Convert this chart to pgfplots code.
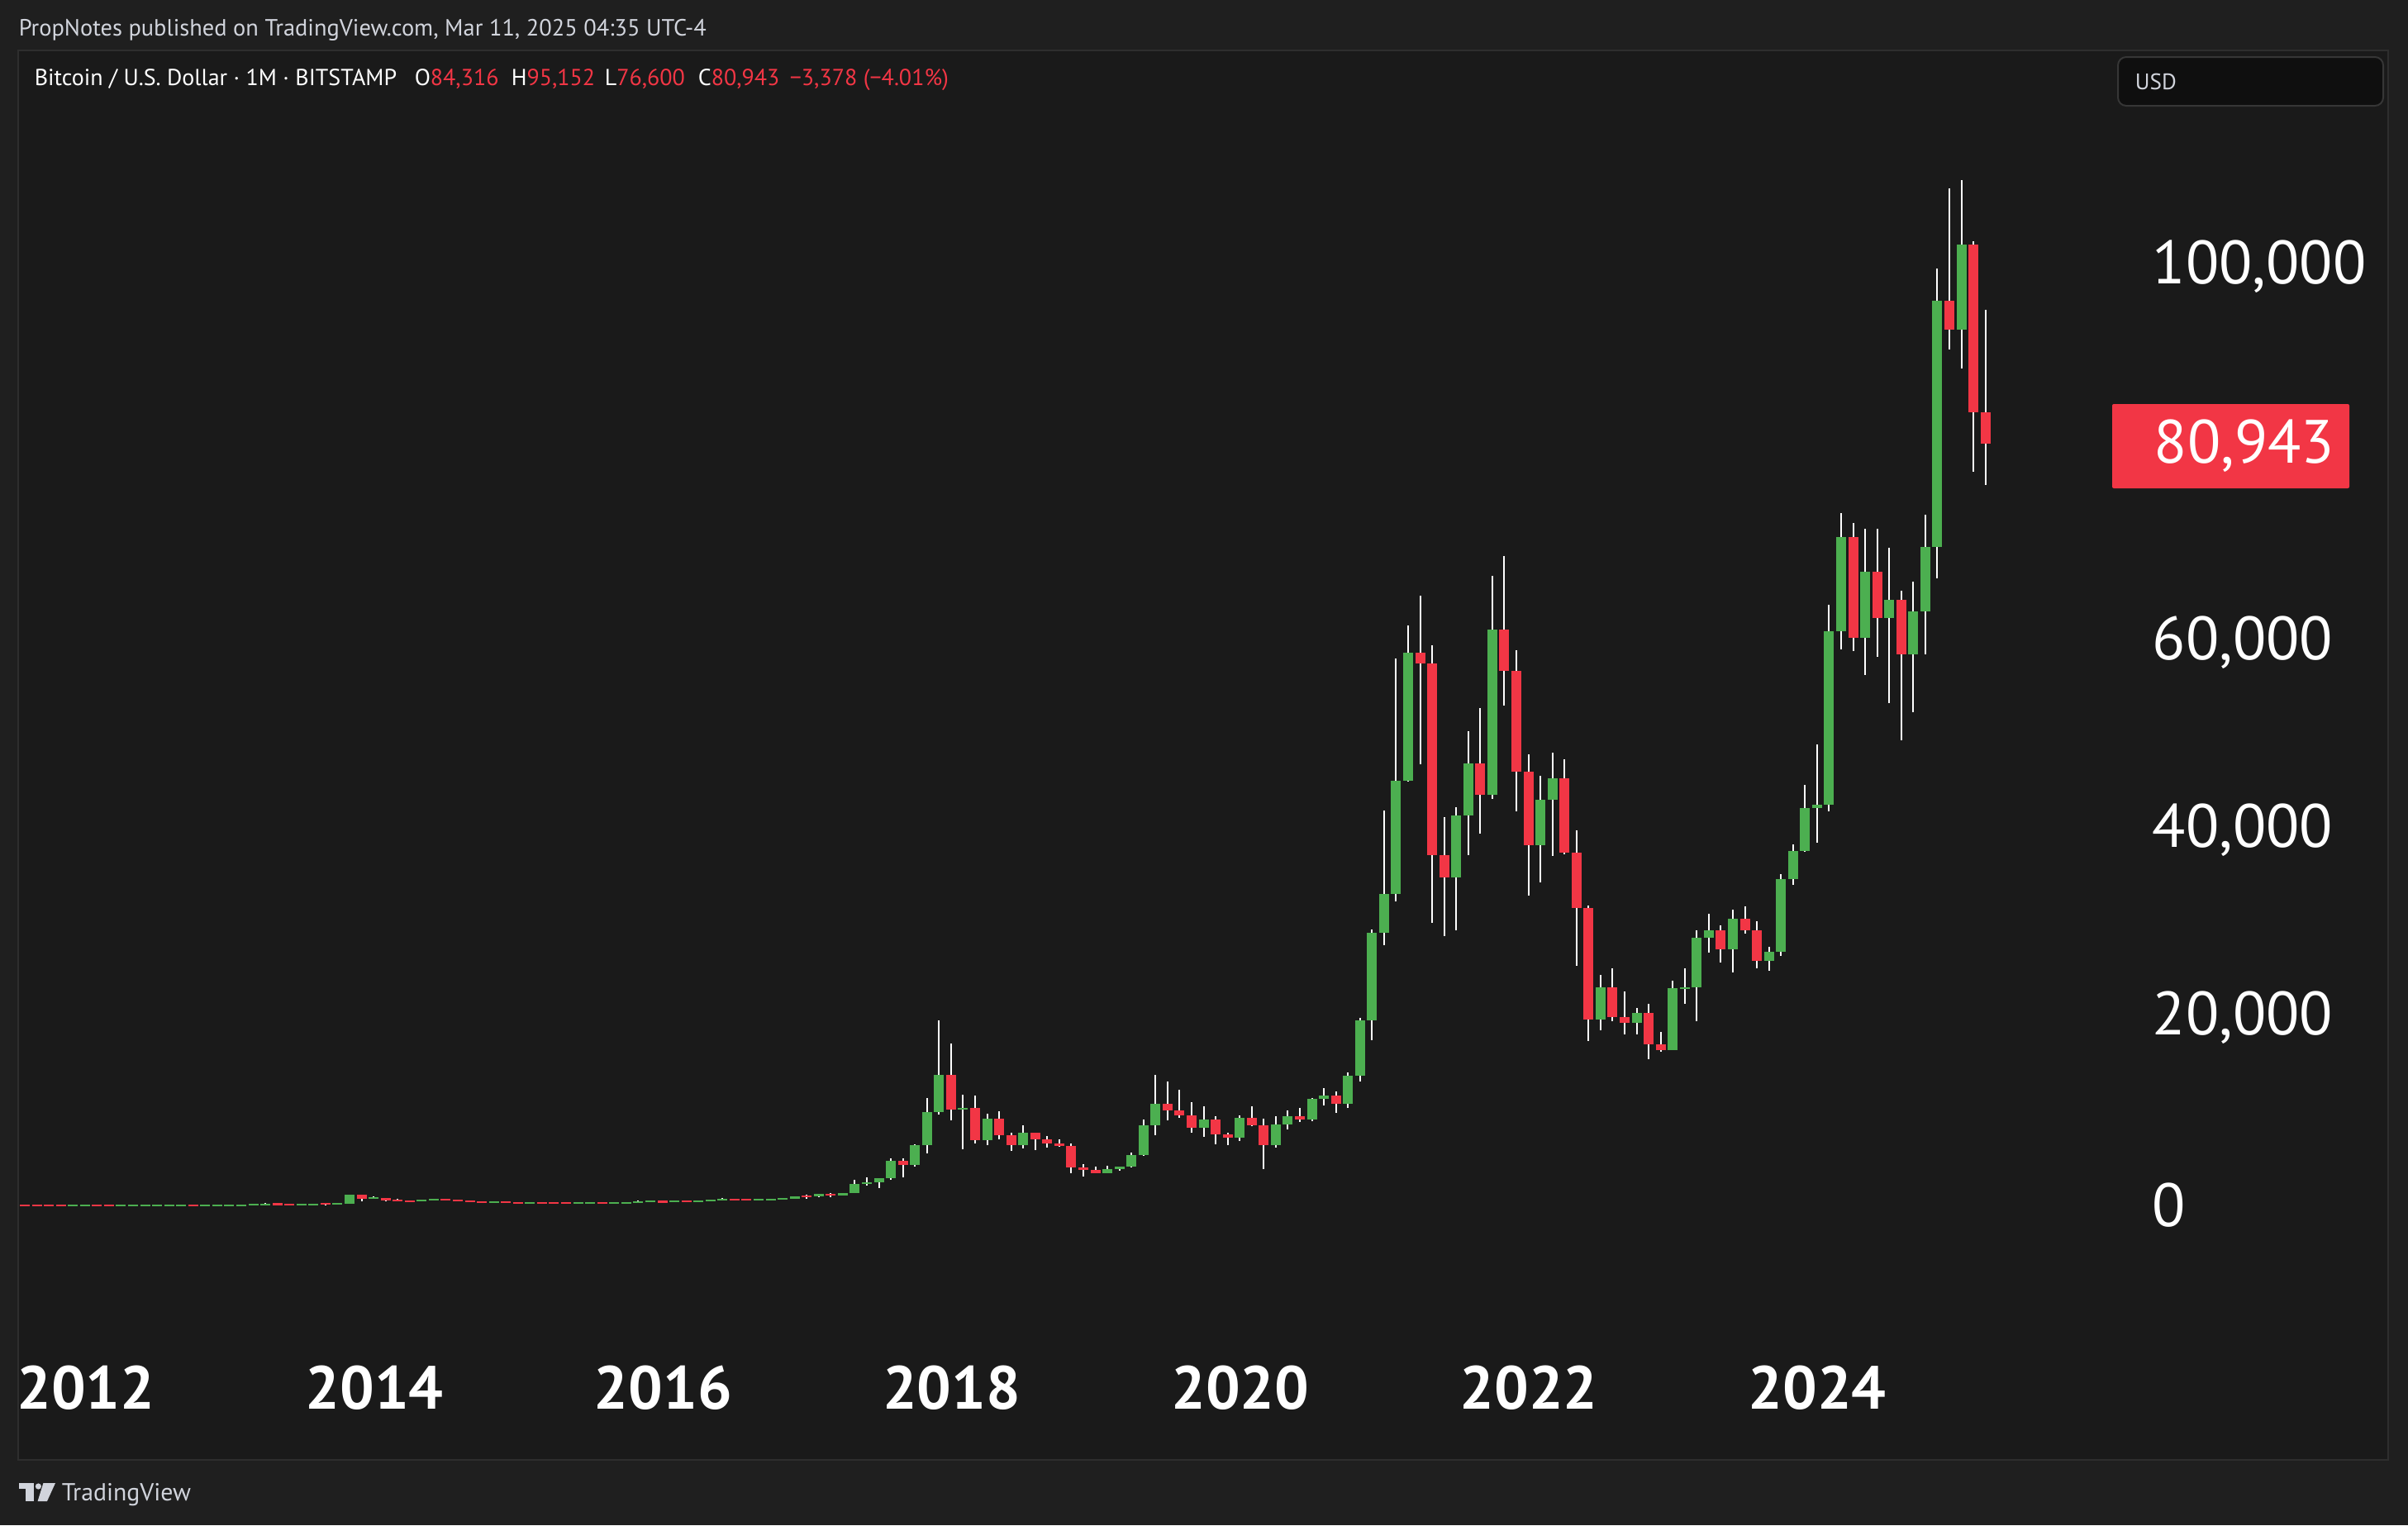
\documentclass[border=0pt]{standalone}
\usepackage{pgfplots}
\pgfplotsset{compat=1.18}
\usepackage{pgfplotstable}
\usepackage{fontspec}
\setmainfont{PT Sans}
\definecolor{outerbg}{HTML}{1F1F1F}
\definecolor{panelbg}{HTML}{1A1A1A}
\definecolor{panelline}{HTML}{2E2E2E}
\definecolor{tvgreen}{HTML}{4CAF50}
\definecolor{tvred}{HTML}{F23645}
\definecolor{txtgray}{HTML}{D1D4DC}
\definecolor{usdbg}{HTML}{0F0F0F}
\definecolor{usdline}{HTML}{363636}

% monthly candles, m = months since Jan 2012, prices in thousand USD
\pgfplotstableread{
m o h l c
-1 0.0030 0.0048 0.0029 0.0047
0 0.0047 0.0072 0.0047 0.0055
3 0.0048 0.0054 0.0046 0.0050
4 0.0050 0.0054 0.0049 0.0052
5 0.0052 0.0068 0.0052 0.0067
6 0.0067 0.0094 0.0065 0.0093
7 0.0093 0.0154 0.0075 0.0102
8 0.0102 0.0126 0.0100 0.0124
10 0.0112 0.0127 0.0100 0.0126
11 0.0126 0.0140 0.0124 0.0135
12 0.0135 0.0210 0.0130 0.0204
13 0.0204 0.0340 0.0204 0.0334
14 0.0334 0.0950 0.0330 0.0930
15 0.093 0.266 0.050 0.139
18 0.097 0.110 0.065 0.106
19 0.106 0.141 0.102 0.141
21 0.138 0.215 0.105 0.204
22 0.204 1.163 0.197 1.130
24 0.73 0.99 0.73 0.80
28 0.45 0.63 0.42 0.63
29 0.63 0.68 0.55 0.64
34 0.34 0.46 0.32 0.38
37 0.22 0.26 0.21 0.25
41 0.230 0.27 0.22 0.263
42 0.263 0.32 0.25 0.285
44 0.230 0.245 0.225 0.236
45 0.236 0.33 0.235 0.314
46 0.314 0.50 0.30 0.377
47 0.377 0.47 0.35 0.430
49 0.369 0.44 0.36 0.437
51 0.416 0.47 0.41 0.448
52 0.448 0.55 0.44 0.531
53 0.531 0.78 0.52 0.673
56 0.575 0.62 0.57 0.609
57 0.609 0.74 0.60 0.700
58 0.700 0.76 0.68 0.743
59 0.743 0.98 0.74 0.963
61 0.965 1.21 0.92 1.190
63 1.080 1.35 1.06 1.350
64 1.350 2.76 1.35 2.300
65 2.300 3.00 2.07 2.480
66 2.480 2.92 1.83 2.870
67 2.870 4.98 2.70 4.740
69 4.340 6.47 4.11 6.450
70 6.450 11.40 5.50 9.950
71 9.950 19.67 9.70 13.880
73 10.220 11.79 5.97 10.330
75 6.940 9.76 6.43 9.240
78 6.390 8.50 6.09 7.730
85 3.460 4.20 3.39 3.830
86 3.830 4.14 3.73 4.100
87 4.100 5.62 4.07 5.320
88 5.320 9.10 5.30 8.560
89 8.560 13.88 7.44 10.820
93 8.290 10.54 7.30 9.150
96 7.200 9.58 6.85 9.350
99 6.420 9.46 6.15 8.630
100 8.630 10.07 8.10 9.450
102 9.140 11.45 8.98 11.350
103 11.350 12.47 10.60 11.660
105 10.780 14.10 10.38 13.800
106 13.800 19.90 13.20 19.700
107 19.700 29.30 17.57 28.950
108 28.950 41.95 27.70 33.110
109 33.110 58.10 32.30 45.100
110 45.100 61.60 45.00 58.700
114 34.900 42.30 29.20 41.400
115 41.400 50.40 37.20 47.000
117 43.600 66.90 43.20 61.200
121 38.300 45.70 34.30 43.100
122 43.100 48.10 37.10 45.400
126 19.800 24.50 18.60 23.200
129 19.400 21.00 18.20 20.500
132 16.550 23.90 16.50 23.100
133 23.100 25.20 21.40 23.150
134 23.150 29.20 19.60 28.450
135 28.450 31.00 26.90 29.250
137 27.200 31.40 24.80 30.450
140 25.950 27.50 24.90 26.950
141 26.950 35.20 26.55 34.650
142 34.650 38.40 34.10 37.700
143 37.700 44.70 37.60 42.250
144 42.250 48.95 38.55 42.550
145 42.550 63.80 41.85 61.000
146 61.000 73.60 59.10 71.000
148 60.300 71.90 56.40 67.300
150 62.400 69.90 53.40 64.400
152 58.600 66.30 52.40 63.100
153 63.100 73.40 58.60 70.000
154 70.000 99.60 66.60 96.100
156 93.100 109.00 88.90 102.100
}\greentab

\pgfplotstableread{
m o h l c
-5 0.013 0.013 0.007 0.008
-4 0.008 0.0085 0.0045 0.0051
-3 0.0051 0.0052 0.0022 0.0032
-2 0.0032 0.0035 0.0020 0.0030
1 0.0055 0.0065 0.0042 0.0049
2 0.0049 0.0054 0.0043 0.0048
9 0.0124 0.0128 0.0100 0.0112
16 0.139 0.140 0.079 0.129
17 0.129 0.130 0.088 0.097
20 0.141 0.148 0.110 0.138
23 1.130 1.160 0.400 0.730
25 0.80 0.82 0.40 0.57
26 0.57 0.71 0.44 0.46
27 0.46 0.54 0.34 0.45
30 0.64 0.65 0.56 0.59
31 0.59 0.60 0.45 0.48
32 0.48 0.50 0.36 0.39
33 0.39 0.42 0.28 0.34
35 0.38 0.38 0.30 0.32
36 0.32 0.32 0.15 0.22
38 0.254 0.30 0.24 0.244
39 0.244 0.26 0.21 0.236
40 0.236 0.25 0.23 0.230
43 0.285 0.285 0.20 0.230
48 0.430 0.46 0.35 0.369
50 0.437 0.44 0.39 0.416
54 0.673 0.70 0.58 0.624
55 0.624 0.63 0.54 0.575
60 0.970 1.15 0.75 0.965
62 1.190 1.35 0.89 1.080
68 4.740 4.98 2.97 4.340
72 13.880 17.17 9.04 10.220
74 10.330 11.70 6.60 6.940
76 9.240 10.00 7.05 7.500
77 7.500 7.77 5.76 6.390
79 7.730 7.77 5.88 7.030
80 7.030 7.41 6.14 6.620
81 6.620 7.00 6.20 6.300
82 6.300 6.56 3.45 4.040
83 4.040 4.40 3.12 3.740
84 3.740 4.11 3.40 3.460
90 10.820 13.20 9.05 10.090
91 10.090 12.33 9.32 9.590
92 9.590 10.95 7.71 8.290
94 9.150 9.51 6.52 7.560
95 7.560 7.75 6.43 7.200
97 9.350 10.50 8.46 8.540
98 8.540 9.19 3.86 6.420
101 9.450 10.38 8.90 9.140
104 11.660 12.09 9.88 10.780
111 58.700 64.80 46.90 57.600
112 57.600 59.50 30.00 37.200
113 37.200 41.30 28.60 34.900
116 47.000 52.90 39.50 43.600
118 61.200 69.00 53.10 56.800
119 56.800 59.00 41.90 46.100
120 46.100 47.90 32.90 38.300
123 45.400 47.40 37.30 37.500
124 37.500 39.90 25.50 31.600
125 31.600 31.90 17.50 19.800
127 23.200 25.20 19.60 20.000
128 20.000 22.70 18.20 19.400
130 20.500 21.40 15.50 17.150
131 17.150 18.40 16.30 16.550
136 29.250 29.80 25.80 27.200
138 30.450 31.80 28.90 29.200
139 29.200 30.20 25.20 25.950
147 71.000 72.50 58.90 60.300
149 67.300 71.90 58.30 62.400
151 64.400 65.30 49.40 58.600
155 96.100 108.10 91.00 93.100
157 102.100 102.50 78.00 84.300
158 84.316 95.152 76.600 80.943
}\redtab

\pgfplotsset{
  wick/.style={draw=none, mark=none, forget plot,
    error bars/.cd, y dir=both, y explicit, error mark=none,
    error bar style={draw=white, line width=0.5pt}},
  body/.style={draw=none, mark=none, forget plot,
    error bars/.cd, y dir=both, y explicit, error mark=none,
    error bar style={draw=#1, line width=3pt}},
}

\begin{document}
\begin{tikzpicture}
% backgrounds
\fill[outerbg] (0pt,0pt) rectangle (728.5pt,-461.5pt);
\fill[panelbg] (5.5pt,-15.25pt) rectangle (722.5pt,-441.75pt);
\draw[panelline, line width=0.5pt] (5.5pt,-15.25pt) rectangle (722.5pt,-441.75pt);

\begin{axis}[
  at={(5.5pt,-441.75pt)}, anchor=south west,
  scale only axis, width=717pt, height=426.5pt,
  xmin=-5.551, xmax=191.48, ymin=-27.04, ymax=122.74,
  hide axis, clip=false,
]
\addplot[wick] table[x=m, y expr={(\thisrow{h}+\thisrow{l})/2}, y error expr={(\thisrow{h}-\thisrow{l})/2}] {\greentab};
\addplot[wick] table[x=m, y expr={(\thisrow{h}+\thisrow{l})/2}, y error expr={(\thisrow{h}-\thisrow{l})/2}] {\redtab};
\addplot[body=tvgreen] table[x=m, y expr={(\thisrow{o}+\thisrow{c})/2}, y error expr={max(abs(\thisrow{c}-\thisrow{o}),0.18)/2}] {\greentab};
\addplot[body=tvred] table[x=m, y expr={(\thisrow{o}+\thisrow{c})/2}, y error expr={max(abs(\thisrow{c}-\thisrow{o}),0.18)/2}] {\redtab};
\end{axis}

% header
\node[anchor=base west, inner sep=0pt, font=\fontsize{7.1pt}{8pt}\selectfont, text=txtgray]
  at (5.5pt,-10.83pt) {PropNotes published on TradingView.com, Mar 11, 2025 04:35 UTC-4};

% legend line
\begin{scope}[every node/.style={anchor=base west, inner sep=0pt, font=\fontsize{7pt}{8pt}\selectfont}]
\node[text=white] at (10.25pt,-25.83pt) {Bitcoin / U.S. Dollar · 1M · BITSTAMP};
\node at (125.25pt,-25.83pt) {\textcolor{white}{O}\textcolor{tvred}{84,316}};
\node at (154.5pt,-25.83pt) {\textcolor{white}{H}\textcolor{tvred}{95,152}};
\node at (182.75pt,-25.83pt) {\textcolor{white}{L}\textcolor{tvred}{76,600}};
\node at (211pt,-25.83pt) {\textcolor{white}{C}\textcolor{tvred}{80,943}};
\node[text=tvred] at (238.75pt,-25.83pt) {−3,378 (−4.01\%)};
\end{scope}

% USD box
\draw[fill=usdbg, draw=usdline, line width=0.5pt, rounded corners=2.5pt] (640.75pt,-17.25pt) rectangle (721pt,-32pt);
\node[anchor=base west, inner sep=0pt, font=\fontsize{6.8pt}{8pt}\selectfont, text=txtgray] at (645.75pt,-27.07pt) {USD};

% price scale labels
\begin{scope}[every node/.style={anchor=base west, inner sep=0pt, font=\fontsize{18.5pt}{22pt}\selectfont, text=white}]
\node at (651pt,-85.9pt) {100,000};
\node at (651pt,-199.5pt) {60,000};
\node at (651pt,-256.25pt) {40,000};
\node at (651pt,-313.1pt) {20,000};
\node at (651pt,-371pt) {0};
\end{scope}
% last price box
\fill[tvred, rounded corners=0.5pt] (639pt,-122.25pt) rectangle (710.75pt,-147.75pt);
\node[anchor=base west, inner sep=0pt, font=\fontsize{18.5pt}{22pt}\selectfont, text=white] at (651.5pt,-140pt) {80,943};

% year labels
\begin{scope}[every node/.style={anchor=base, inner sep=0pt, font=\fontsize{18.4pt}{22pt}\selectfont\bfseries, text=white}]
\node at (26.0pt,-426.4pt) {2012};
\node at (113.3pt,-426.4pt) {2014};
\node at (200.6pt,-426.4pt) {2016};
\node at (287.9pt,-426.4pt) {2018};
\node at (375.2pt,-426.4pt) {2020};
\node at (462.5pt,-426.4pt) {2022};
\node at (549.8pt,-426.4pt) {2024};
\end{scope}

% TradingView logo
\fill[txtgray] (5.75pt,-448.75pt) rectangle (10.25pt,-450.5pt);
\fill[txtgray] (7.75pt,-448.75pt) rectangle (10.25pt,-454.25pt);
\fill[txtgray] (11.6pt,-449.75pt) circle (0.9pt);
\fill[txtgray] (13.1pt,-448.75pt) -- (16.75pt,-448.75pt) -- (14.25pt,-454.25pt) -- (11.4pt,-454.25pt) -- cycle;
\node[anchor=base west, inner sep=0pt, font=\fontsize{7.45pt}{8pt}\selectfont, text=txtgray] at (18.5pt,-454.2pt) {TradingView};
\end{tikzpicture}
\end{document}
